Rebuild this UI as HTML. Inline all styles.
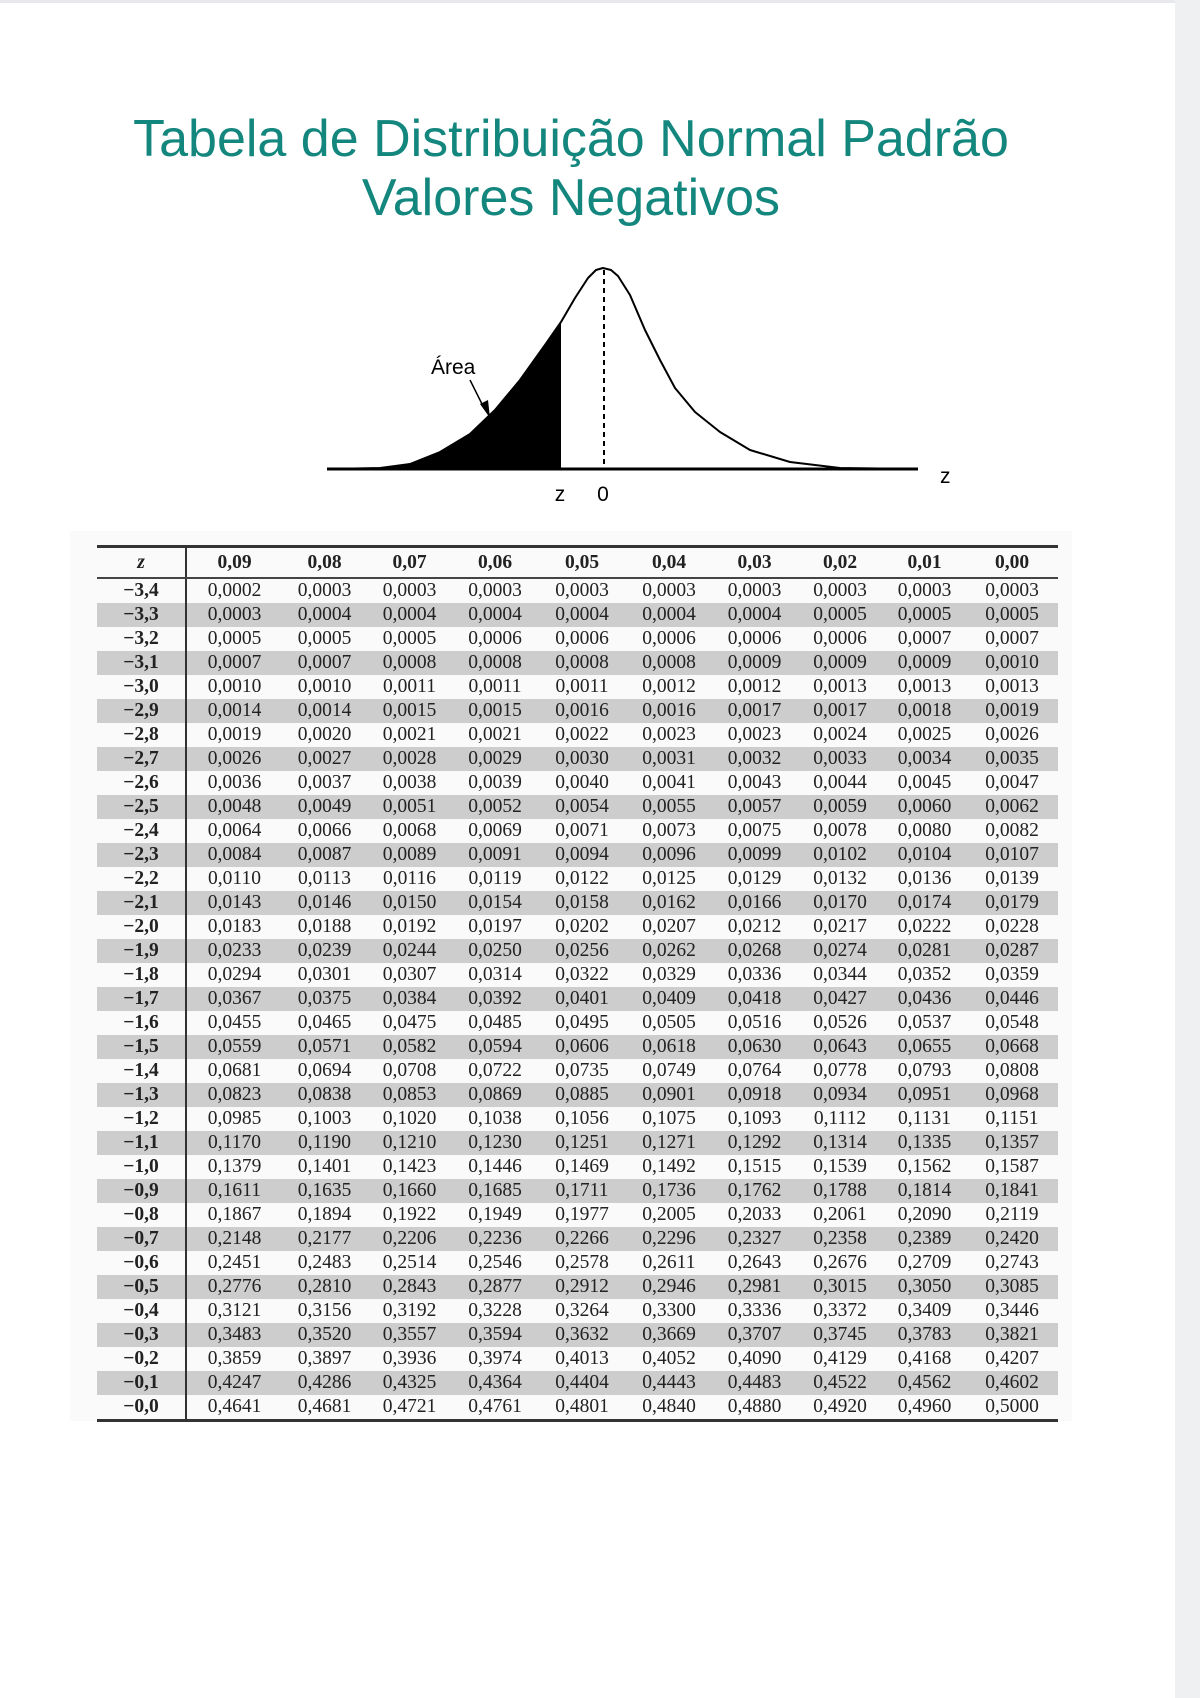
<!DOCTYPE html>
<html><head><meta charset="utf-8">
<style>
html,body{margin:0;padding:0;background:#fff;}
body{width:1200px;height:1698px;position:relative;overflow:hidden;font-family:"Liberation Sans",sans-serif;}
.strip{position:absolute;left:1175px;top:0;width:25px;height:1698px;background:#eff0f2;}
.topl{position:absolute;left:0;top:0;width:1200px;height:3px;background:#e6e8eb;}
.t{position:absolute;left:0;width:1142px;text-align:center;color:#13867e;font-size:52px;line-height:62px;}
table{position:absolute;left:97px;top:545px;border-collapse:collapse;font-family:"Liberation Serif",serif;font-size:19.5px;color:#222;table-layout:fixed;width:961px;}
td,th{padding:0;text-align:center;height:24px;line-height:24px;white-space:nowrap;}
th{height:29px;font-weight:bold;border-top:3px solid #333;border-bottom:2px solid #444;}
td:first-child,th:first-child{border-right:2px solid #333;font-weight:bold;}
tr.g td{background:#cdcdcd;}
tr:last-child td{border-bottom:3px solid #333;}
.bg{position:absolute;left:70px;top:531px;width:1002px;height:890px;background:#fafafa;}
</style></head><body>
<div class="topl"></div>
<div class="strip"></div>
<div class="t" style="top:108px">Tabela de Distribuição Normal Padrão</div>
<div class="t" style="top:167px">Valores Negativos</div>
<svg style="position:absolute;left:0;top:0" width="1200" height="520">
<path d="M380,469 L380,468 L410,464 L440,452 L470,434 L495,410 L520,380 L545,345 L561,322 L561,469 Z" fill="#000"/>
<path d="M327,469 L380,468 L410,464 L440,452 L470,434 L495,410 L520,380 L545,345 L561,322 L575,298 L588,278 L596,270 L603,268 L611,270 L618,276 L630,295 L645,330 L660,360 L675,388 L695,412 L720,432 L750,450 L790,462 L840,468 L918,469" fill="none" stroke="#000" stroke-width="2" stroke-linejoin="round"/>
<line x1="327" y1="469" x2="918" y2="469" stroke="#000" stroke-width="3"/>
<line x1="604" y1="270" x2="604" y2="469" stroke="#000" stroke-width="2" stroke-dasharray="5,4"/>
<line x1="470" y1="380" x2="484" y2="408" stroke="#000" stroke-width="1.5"/>
<polygon points="480,404 490,418 488,400" fill="#000"/>
<text x="431" y="374" font-family="Liberation Sans" font-size="21">Área</text>
<text x="940" y="483" font-family="Liberation Sans" font-size="21">z</text>
<text x="560" y="501" font-family="Liberation Sans" font-size="21" text-anchor="middle">z</text>
<text x="603" y="501" font-family="Liberation Sans" font-size="21" text-anchor="middle">0</text>
</svg>
<div class="bg"></div>
<table>
<colgroup><col style="width:89px"><col style="width:96px"><col style="width:85px"><col style="width:85px"><col style="width:86px"><col style="width:88px"><col style="width:86px"><col style="width:85px"><col style="width:86px"><col style="width:83px"><col style="width:92px"></colgroup>
<tr><th><i>z</i></th><th>0,09</th><th>0,08</th><th>0,07</th><th>0,06</th><th>0,05</th><th>0,04</th><th>0,03</th><th>0,02</th><th>0,01</th><th>0,00</th></tr>
<tr><td>−3,4</td><td>0,0002</td><td>0,0003</td><td>0,0003</td><td>0,0003</td><td>0,0003</td><td>0,0003</td><td>0,0003</td><td>0,0003</td><td>0,0003</td><td>0,0003</td></tr>
<tr class="g"><td>−3,3</td><td>0,0003</td><td>0,0004</td><td>0,0004</td><td>0,0004</td><td>0,0004</td><td>0,0004</td><td>0,0004</td><td>0,0005</td><td>0,0005</td><td>0,0005</td></tr>
<tr><td>−3,2</td><td>0,0005</td><td>0,0005</td><td>0,0005</td><td>0,0006</td><td>0,0006</td><td>0,0006</td><td>0,0006</td><td>0,0006</td><td>0,0007</td><td>0,0007</td></tr>
<tr class="g"><td>−3,1</td><td>0,0007</td><td>0,0007</td><td>0,0008</td><td>0,0008</td><td>0,0008</td><td>0,0008</td><td>0,0009</td><td>0,0009</td><td>0,0009</td><td>0,0010</td></tr>
<tr><td>−3,0</td><td>0,0010</td><td>0,0010</td><td>0,0011</td><td>0,0011</td><td>0,0011</td><td>0,0012</td><td>0,0012</td><td>0,0013</td><td>0,0013</td><td>0,0013</td></tr>
<tr class="g"><td>−2,9</td><td>0,0014</td><td>0,0014</td><td>0,0015</td><td>0,0015</td><td>0,0016</td><td>0,0016</td><td>0,0017</td><td>0,0017</td><td>0,0018</td><td>0,0019</td></tr>
<tr><td>−2,8</td><td>0,0019</td><td>0,0020</td><td>0,0021</td><td>0,0021</td><td>0,0022</td><td>0,0023</td><td>0,0023</td><td>0,0024</td><td>0,0025</td><td>0,0026</td></tr>
<tr class="g"><td>−2,7</td><td>0,0026</td><td>0,0027</td><td>0,0028</td><td>0,0029</td><td>0,0030</td><td>0,0031</td><td>0,0032</td><td>0,0033</td><td>0,0034</td><td>0,0035</td></tr>
<tr><td>−2,6</td><td>0,0036</td><td>0,0037</td><td>0,0038</td><td>0,0039</td><td>0,0040</td><td>0,0041</td><td>0,0043</td><td>0,0044</td><td>0,0045</td><td>0,0047</td></tr>
<tr class="g"><td>−2,5</td><td>0,0048</td><td>0,0049</td><td>0,0051</td><td>0,0052</td><td>0,0054</td><td>0,0055</td><td>0,0057</td><td>0,0059</td><td>0,0060</td><td>0,0062</td></tr>
<tr><td>−2,4</td><td>0,0064</td><td>0,0066</td><td>0,0068</td><td>0,0069</td><td>0,0071</td><td>0,0073</td><td>0,0075</td><td>0,0078</td><td>0,0080</td><td>0,0082</td></tr>
<tr class="g"><td>−2,3</td><td>0,0084</td><td>0,0087</td><td>0,0089</td><td>0,0091</td><td>0,0094</td><td>0,0096</td><td>0,0099</td><td>0,0102</td><td>0,0104</td><td>0,0107</td></tr>
<tr><td>−2,2</td><td>0,0110</td><td>0,0113</td><td>0,0116</td><td>0,0119</td><td>0,0122</td><td>0,0125</td><td>0,0129</td><td>0,0132</td><td>0,0136</td><td>0,0139</td></tr>
<tr class="g"><td>−2,1</td><td>0,0143</td><td>0,0146</td><td>0,0150</td><td>0,0154</td><td>0,0158</td><td>0,0162</td><td>0,0166</td><td>0,0170</td><td>0,0174</td><td>0,0179</td></tr>
<tr><td>−2,0</td><td>0,0183</td><td>0,0188</td><td>0,0192</td><td>0,0197</td><td>0,0202</td><td>0,0207</td><td>0,0212</td><td>0,0217</td><td>0,0222</td><td>0,0228</td></tr>
<tr class="g"><td>−1,9</td><td>0,0233</td><td>0,0239</td><td>0,0244</td><td>0,0250</td><td>0,0256</td><td>0,0262</td><td>0,0268</td><td>0,0274</td><td>0,0281</td><td>0,0287</td></tr>
<tr><td>−1,8</td><td>0,0294</td><td>0,0301</td><td>0,0307</td><td>0,0314</td><td>0,0322</td><td>0,0329</td><td>0,0336</td><td>0,0344</td><td>0,0352</td><td>0,0359</td></tr>
<tr class="g"><td>−1,7</td><td>0,0367</td><td>0,0375</td><td>0,0384</td><td>0,0392</td><td>0,0401</td><td>0,0409</td><td>0,0418</td><td>0,0427</td><td>0,0436</td><td>0,0446</td></tr>
<tr><td>−1,6</td><td>0,0455</td><td>0,0465</td><td>0,0475</td><td>0,0485</td><td>0,0495</td><td>0,0505</td><td>0,0516</td><td>0,0526</td><td>0,0537</td><td>0,0548</td></tr>
<tr class="g"><td>−1,5</td><td>0,0559</td><td>0,0571</td><td>0,0582</td><td>0,0594</td><td>0,0606</td><td>0,0618</td><td>0,0630</td><td>0,0643</td><td>0,0655</td><td>0,0668</td></tr>
<tr><td>−1,4</td><td>0,0681</td><td>0,0694</td><td>0,0708</td><td>0,0722</td><td>0,0735</td><td>0,0749</td><td>0,0764</td><td>0,0778</td><td>0,0793</td><td>0,0808</td></tr>
<tr class="g"><td>−1,3</td><td>0,0823</td><td>0,0838</td><td>0,0853</td><td>0,0869</td><td>0,0885</td><td>0,0901</td><td>0,0918</td><td>0,0934</td><td>0,0951</td><td>0,0968</td></tr>
<tr><td>−1,2</td><td>0,0985</td><td>0,1003</td><td>0,1020</td><td>0,1038</td><td>0,1056</td><td>0,1075</td><td>0,1093</td><td>0,1112</td><td>0,1131</td><td>0,1151</td></tr>
<tr class="g"><td>−1,1</td><td>0,1170</td><td>0,1190</td><td>0,1210</td><td>0,1230</td><td>0,1251</td><td>0,1271</td><td>0,1292</td><td>0,1314</td><td>0,1335</td><td>0,1357</td></tr>
<tr><td>−1,0</td><td>0,1379</td><td>0,1401</td><td>0,1423</td><td>0,1446</td><td>0,1469</td><td>0,1492</td><td>0,1515</td><td>0,1539</td><td>0,1562</td><td>0,1587</td></tr>
<tr class="g"><td>−0,9</td><td>0,1611</td><td>0,1635</td><td>0,1660</td><td>0,1685</td><td>0,1711</td><td>0,1736</td><td>0,1762</td><td>0,1788</td><td>0,1814</td><td>0,1841</td></tr>
<tr><td>−0,8</td><td>0,1867</td><td>0,1894</td><td>0,1922</td><td>0,1949</td><td>0,1977</td><td>0,2005</td><td>0,2033</td><td>0,2061</td><td>0,2090</td><td>0,2119</td></tr>
<tr class="g"><td>−0,7</td><td>0,2148</td><td>0,2177</td><td>0,2206</td><td>0,2236</td><td>0,2266</td><td>0,2296</td><td>0,2327</td><td>0,2358</td><td>0,2389</td><td>0,2420</td></tr>
<tr><td>−0,6</td><td>0,2451</td><td>0,2483</td><td>0,2514</td><td>0,2546</td><td>0,2578</td><td>0,2611</td><td>0,2643</td><td>0,2676</td><td>0,2709</td><td>0,2743</td></tr>
<tr class="g"><td>−0,5</td><td>0,2776</td><td>0,2810</td><td>0,2843</td><td>0,2877</td><td>0,2912</td><td>0,2946</td><td>0,2981</td><td>0,3015</td><td>0,3050</td><td>0,3085</td></tr>
<tr><td>−0,4</td><td>0,3121</td><td>0,3156</td><td>0,3192</td><td>0,3228</td><td>0,3264</td><td>0,3300</td><td>0,3336</td><td>0,3372</td><td>0,3409</td><td>0,3446</td></tr>
<tr class="g"><td>−0,3</td><td>0,3483</td><td>0,3520</td><td>0,3557</td><td>0,3594</td><td>0,3632</td><td>0,3669</td><td>0,3707</td><td>0,3745</td><td>0,3783</td><td>0,3821</td></tr>
<tr><td>−0,2</td><td>0,3859</td><td>0,3897</td><td>0,3936</td><td>0,3974</td><td>0,4013</td><td>0,4052</td><td>0,4090</td><td>0,4129</td><td>0,4168</td><td>0,4207</td></tr>
<tr class="g"><td>−0,1</td><td>0,4247</td><td>0,4286</td><td>0,4325</td><td>0,4364</td><td>0,4404</td><td>0,4443</td><td>0,4483</td><td>0,4522</td><td>0,4562</td><td>0,4602</td></tr>
<tr><td>−0,0</td><td>0,4641</td><td>0,4681</td><td>0,4721</td><td>0,4761</td><td>0,4801</td><td>0,4840</td><td>0,4880</td><td>0,4920</td><td>0,4960</td><td>0,5000</td></tr>
</table>
</body></html>
